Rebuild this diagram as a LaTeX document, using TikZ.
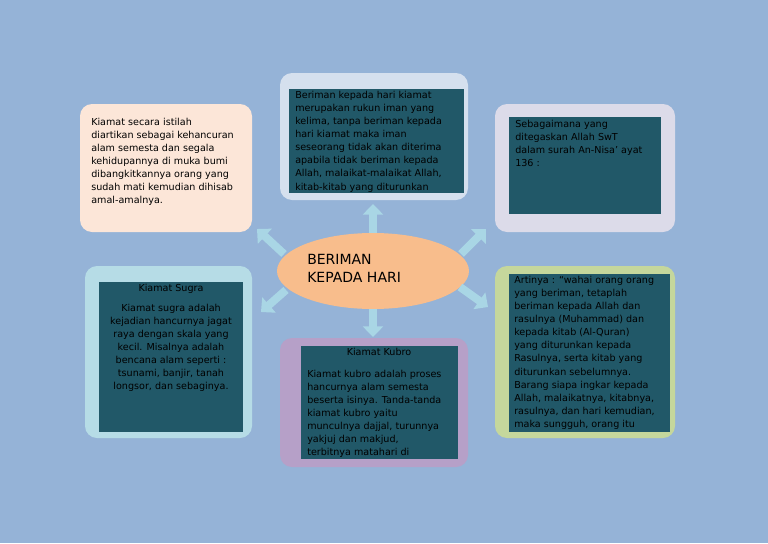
\documentclass[tikz,border=0pt]{standalone}
\usepackage{fontspec}
\setmainfont{DejaVu Sans}
\usetikzlibrary{arrows.meta,shapes.geometric}
\definecolor{bg}{HTML}{95B3D7}
\definecolor{dk}{HTML}{215868}
\definecolor{arr}{HTML}{A9D6E5}
\begin{document}
\begin{tikzpicture}[x=0.75pt,y=-0.75pt,
  outer/.style={rounded corners=9pt},
  txt/.style={anchor=north west,inner sep=0pt,font=\fontsize{7.2}{9.8}\selectfont,align=left},
  ctxt/.style={anchor=north west,inner sep=0pt,font=\fontsize{7.2}{9.8}\selectfont,align=center}]
\fill[bg] (0,0) rectangle (768,543);
\useasboundingbox (0,0) rectangle (768,543);
% outer boxes
\fill[outer,fill={rgb,255:red,213;green,224;blue,238}] (280,73) rectangle (468,200);
\fill[outer,fill={rgb,255:red,252;green,230;blue,216}] (80,104) rectangle (252,232);
\fill[outer,fill={rgb,255:red,220;green,219;blue,233}] (495,104) rectangle (675,232);
\fill[outer,fill={rgb,255:red,182;green,220;blue,230}] (85,266) rectangle (252,438);
\fill[outer,fill={rgb,255:red,182;green,160;blue,200}] (280,338) rectangle (468,467);
\fill[outer,fill={rgb,255:red,197;green,215;blue,156}] (495,266) rectangle (675,438);
% inner boxes
\fill[dk] (289,89) rectangle (464,193);
\fill[dk] (509,117) rectangle (661,214);
\fill[dk] (99,282) rectangle (243,432);
\fill[dk] (301,346) rectangle (458,459);
\fill[dk] (509,274) rectangle (670,432);
% texts
\begin{scope}
\clip (289,89) rectangle (464,193);
\node[txt] (t1) at (295,91) {Beriman kepada hari kiamat\\merupakan rukun iman yang\\kelima, tanpa beriman kepada\\hari kiamat maka iman\\seseorang tidak akan diterima\\apabila tidak beriman kepada\\Allah, malaikat-malaikat Allah,\\kitab-kitab yang diturunkan};
\end{scope}
\node[txt] (t2) at (91,118) {Kiamat secara istilah\\diartikan sebagai kehancuran\\alam semesta dan segala\\kehidupannya di muka bumi\\dibangkitkannya orang yang\\sudah mati kemudian dihisab\\amal-amalnya.};
\node[txt] (t3) at (515,120) {Sebagaimana yang\\ditegaskan Allah SwT\\dalam surah An-Nisa' ayat\\136 :};
\begin{scope}
\clip (99,282) rectangle (243,432);
\node[ctxt,anchor=north] (t4) at (171,284) {Kiamat Sugra\\[5pt]Kiamat sugra adalah\\kejadian hancurnya jagat\\raya dengan skala yang\\kecil. Misalnya adalah\\bencana alam seperti :\\tsunami, banjir, tanah\\longsor, dan sebaginya.};
\end{scope}
\begin{scope}
\clip (301,346) rectangle (458,459);
\node[ctxt,anchor=north] (t5a) at (379,348) {Kiamat Kubro};
\node[txt] (t5) at (307,370) {Kiamat kubro adalah proses\\hancurnya alam semesta\\beserta isinya. Tanda-tanda\\kiamat kubro yaitu\\munculnya dajjal, turunnya\\yakjuj dan makjud,\\terbitnya matahari di};
\end{scope}
\begin{scope}
\clip (509,274) rectangle (670,432);
\node[txt] (t6) at (514,276) {Artinya : “wahai orang orang\\yang beriman, tetaplah\\beriman kepada Allah dan\\rasulnya (Muhammad) dan\\kepada kitab (Al-Quran)\\yang diturunkan kepada\\Rasulnya, serta kitab yang\\diturunkan sebelumnya.\\Barang siapa ingkar kepada\\Allah, malaikatnya, kitabnya,\\rasulnya, dan hari kemudian,\\maka sungguh, orang itu};
\end{scope}
% centre
\node[ellipse,minimum width=144pt,minimum height=57pt,fill={rgb,255:red,248;green,189;blue,140},inner sep=0pt] (c) at (373,271) {};
\node[anchor=west,align=left,font=\fontsize{10.5}{13.5}\selectfont,inner sep=0pt] (ct) at (307,268) {BERIMAN\\KEPADA HARI};
% arrows
\coordinate (a1s) at (373,233); \coordinate (a1e) at (373,204);
\coordinate (a2s) at (373,309); \coordinate (a2e) at (373,337);
\coordinate (a3s) at (284,254); \coordinate (a3e) at (257,229);
\coordinate (a4s) at (461,254); \coordinate (a4e) at (486,229);
\coordinate (a5s) at (286,290); \coordinate (a5e) at (261,312);
\coordinate (a6s) at (460,287); \coordinate (a6e) at (488,307);
\foreach \i in {1,...,6} {\draw[line width=6pt,arr,-{Triangle[length=8pt,width=15pt]}] (a\i s) -- (a\i e);}
\end{tikzpicture}
\end{document}
